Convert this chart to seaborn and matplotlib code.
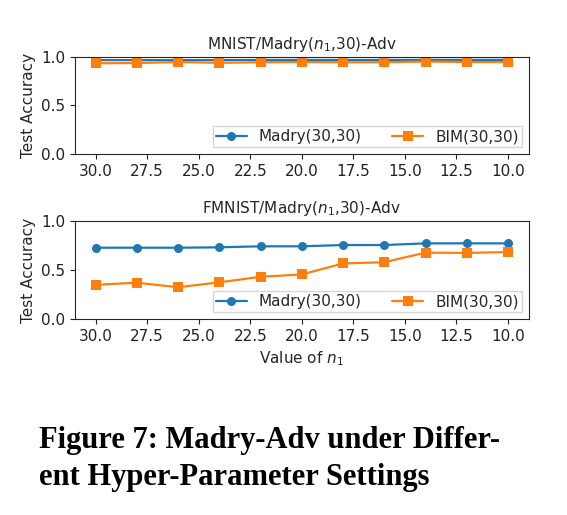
import numpy as np
import pandas as pd
import matplotlib
matplotlib.use('Agg')
import matplotlib.pyplot as plt
import seaborn as sns

# --- Data ---
n1_values = [30, 28, 26, 24, 22, 20, 18, 16, 14, 12, 10]
mnist_madry = [0.965, 0.965, 0.965, 0.965, 0.966, 0.966, 0.966, 0.966, 0.967, 0.967, 0.967]
mnist_bim = [0.933, 0.935, 0.945, 0.937, 0.943, 0.945, 0.943, 0.943, 0.950, 0.945, 0.945]
fmnist_madry = [0.726, 0.726, 0.726, 0.730, 0.740, 0.740, 0.753, 0.753, 0.770, 0.770, 0.770]
fmnist_bim = [0.350, 0.371, 0.325, 0.375, 0.431, 0.455, 0.566, 0.579, 0.676, 0.673, 0.682]

series_labels = ['Madry(30,30)', 'BIM(30,30)']
panel_titles = ['MNIST/Madry($n_1$,30)-Adv', 'FMNIST/Madry($n_1$,30)-Adv']
caption_lines = ['Figure 7: Madry-Adv under Differ-', 'ent Hyper-Parameter Settings']

sns.set_style('ticks')
plt.rcParams['font.family'] = ['DejaVu Sans']

fig = plt.figure(figsize=(5.67, 5.15), dpi=100)
ax_top = fig.add_axes([0.1323, 0.7004, 0.800, 0.1895])
ax_bot = fig.add_axes([0.1323, 0.380, 0.800, 0.1915])

panels = [(ax_top, mnist_madry, mnist_bim, panel_titles[0]),
          (ax_bot, fmnist_madry, fmnist_bim, panel_titles[1])]

for ax, madry, bim, title in panels:
    sns.lineplot(x=n1_values, y=madry, ax=ax, marker='o', markersize=6.5,
                 color='#1f77b4', linewidth=1.6, markeredgewidth=0,
                 label=series_labels[0])
    sns.lineplot(x=n1_values, y=bim, ax=ax, marker='s', markersize=6.5,
                 color='#ff7f0e', linewidth=1.6, markeredgewidth=0,
                 label=series_labels[1])
    ax.set_ylim(0, 1)
    ax.set_yticks([0.0, 0.5, 1.0])
    ax.invert_xaxis()
    ax.set_title(title, fontsize=11, pad=5.5)
    ax.set_ylabel('Test Accuracy', fontsize=11)
    ax.tick_params(labelsize=11, colors='#222222', length=3.5)
    for s in ax.spines.values():
        s.set_linewidth(0.8)
    ax.legend(loc='lower right', ncol=2, fontsize=11, frameon=True,
              borderpad=0.2, handletextpad=0.8, columnspacing=2.0,
              borderaxespad=0.45, fancybox=False, edgecolor='#cccccc')

ax_bot.set_xlabel('Value of $n_1$', fontsize=11)

# caption under the plots, two lines as in the paper
fig.text(0.068, 1 - 448 / 515, caption_lines[0], family='Liberation Serif',
         weight='bold', fontsize=22, va='baseline', ha='left', color='black')
fig.text(0.068, 1 - 485 / 515, caption_lines[1], family='Liberation Serif',
         weight='bold', fontsize=22, va='baseline', ha='left', color='black')

fig.savefig('out.png', dpi=100)
